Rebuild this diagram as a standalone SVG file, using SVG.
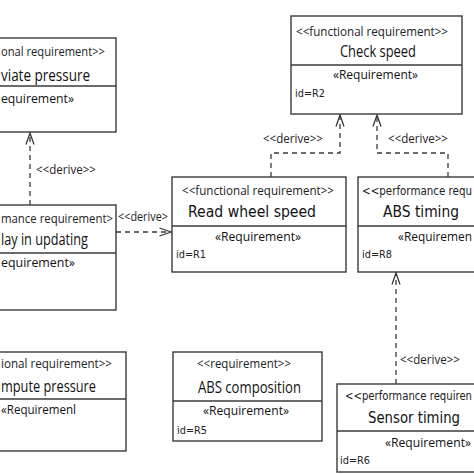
<svg xmlns="http://www.w3.org/2000/svg" width="474" height="474" viewBox="0 0 474 474">
<style>
.box{fill:#fff;stroke:#3a3a3a;stroke-width:1.4}
.div{stroke:#3a3a3a;stroke-width:1.4}
.st{font-family:"Open Sans","Noto Sans",sans-serif;font-size:12px;fill:#222}
.nm{font-family:"Open Sans","Noto Sans",sans-serif;font-size:16px;fill:#111}
.st2{font-family:"DejaVu Sans",sans-serif;font-size:12px;fill:#222}
.nm2{font-family:"DejaVu Sans",sans-serif;font-size:16px;fill:#111}
.rq{font-family:"Open Sans","Noto Sans",sans-serif;font-size:12.5px;fill:#111}
.id{font-family:"DejaVu Sans",sans-serif;font-size:11px;fill:#222}
.lbl{font-family:"Open Sans","Noto Sans",sans-serif;font-size:12px;fill:#222}
.dash{fill:none;stroke:#3a3a3a;stroke-width:1.3;stroke-dasharray:5 4;marker-end:url(#open)}
</style>
<defs>
<marker id="open" markerUnits="userSpaceOnUse" viewBox="0 0 12 8" refX="11.5" refY="4" markerWidth="12" markerHeight="8" orient="auto" overflow="visible">
<path d="M0,0 L11.5,4 L0,8" fill="none" stroke="#3a3a3a" stroke-width="1.3"/>
</marker>
</defs>
<rect width="474" height="474" fill="#fff"/>

<g id="connectors">
<path class="dash" d="M30 205 V133"/>
<path class="dash" d="M116 232 H171"/>
<path class="dash" d="M271 177 V153 H340 V115"/>
<path class="dash" d="M448 177 V153 H377 V115"/>
<path class="dash" d="M396 384 V273"/>
<text class="lbl" x="36" y="174" textLength="60" lengthAdjust="spacingAndGlyphs">&lt;&lt;derive&gt;&gt;</text>
<text class="lbl" x="118" y="221" textLength="50" lengthAdjust="spacingAndGlyphs">&lt;&lt;derive&gt;</text>
<text class="lbl" x="263" y="143" textLength="60" lengthAdjust="spacingAndGlyphs">&lt;&lt;derive&gt;&gt;</text>
<text class="lbl" x="388" y="143" textLength="60" lengthAdjust="spacingAndGlyphs">&lt;&lt;derive&gt;&gt;</text>
<text class="lbl" x="400" y="364" textLength="60" lengthAdjust="spacingAndGlyphs">&lt;&lt;derive&gt;&gt;</text>
</g>

<g id="deviate-pressure">
<rect class="box" x="-2" y="38" width="118" height="94"/>
<line class="div" x1="-2" y1="86" x2="116" y2="86"/>
<text class="st" x="1" y="56" textLength="104" lengthAdjust="spacingAndGlyphs">onal requirement&gt;&gt;</text>
<text class="nm" x="1" y="81" textLength="89" lengthAdjust="spacingAndGlyphs">viate pressure</text>
<text class="rq" x="1" y="103" textLength="73" lengthAdjust="spacingAndGlyphs">equirement»</text>
</g>

<g id="check-speed">
<rect class="box" x="291" y="16" width="171" height="98"/>
<line class="div" x1="291" y1="65" x2="462" y2="65"/>
<text class="st" x="296" y="36" textLength="152" lengthAdjust="spacingAndGlyphs">&lt;&lt;functional requirement&gt;&gt;</text>
<text class="nm" x="340" y="57" textLength="76" lengthAdjust="spacingAndGlyphs">Check speed</text>
<text class="rq" x="333" y="79" textLength="85" lengthAdjust="spacingAndGlyphs">«Requirement»</text>
<text class="id" x="295" y="97" textLength="30" lengthAdjust="spacingAndGlyphs">id=R2</text>
</g>

<g id="delay-in-updating">
<rect class="box" x="-2" y="205" width="118" height="105"/>
<line class="div" x1="-2" y1="253" x2="116" y2="253"/>
<text class="st" x="1" y="223" textLength="112" lengthAdjust="spacingAndGlyphs">mance requirement&gt;</text>
<text class="nm" x="1" y="245" textLength="87" lengthAdjust="spacingAndGlyphs">lay in updating</text>
<text class="rq" x="1" y="267" textLength="74" lengthAdjust="spacingAndGlyphs">equirement»</text>
</g>

<g id="read-wheel-speed">
<rect class="box" x="172" y="177" width="174" height="95"/>
<line class="div" x1="172" y1="226" x2="346" y2="226"/>
<text class="st" x="182" y="195" textLength="152" lengthAdjust="spacingAndGlyphs">&lt;&lt;functional requirement&gt;&gt;</text>
<text class="nm2" x="188" y="217" textLength="128" lengthAdjust="spacingAndGlyphs">Read wheel speed</text>
<text class="rq" x="215" y="241" textLength="86" lengthAdjust="spacingAndGlyphs">«Requirement»</text>
<text class="id" x="176" y="258" textLength="30" lengthAdjust="spacingAndGlyphs">id=R1</text>
</g>

<g id="abs-timing">
<rect class="box" x="358" y="177" width="120" height="95"/>
<line class="div" x1="358" y1="226" x2="478" y2="226"/>
<text class="st2" x="362" y="195" textLength="110" lengthAdjust="spacingAndGlyphs">&lt;&lt;performance requ</text>
<text class="nm2" x="383" y="217" textLength="76" lengthAdjust="spacingAndGlyphs">ABS timing</text>
<text class="rq" x="398" y="241" textLength="74" lengthAdjust="spacingAndGlyphs">«Requiremen</text>
<text class="id" x="362" y="258" textLength="30" lengthAdjust="spacingAndGlyphs">id=R8</text>
</g>

<g id="compute-pressure">
<rect class="box" x="-2" y="352" width="128" height="99"/>
<line class="div" x1="-2" y1="399" x2="126" y2="399"/>
<text class="st" x="1" y="368" textLength="111" lengthAdjust="spacingAndGlyphs">ional requirement&gt;&gt;</text>
<text class="nm" x="1" y="392" textLength="95" lengthAdjust="spacingAndGlyphs">mpute  pressure</text>
<text class="rq" x="1" y="414" textLength="75" lengthAdjust="spacingAndGlyphs">«Requiremenl</text>
</g>

<g id="abs-composition">
<rect class="box" x="173" y="352" width="149" height="89"/>
<line class="div" x1="173" y1="401" x2="322" y2="401"/>
<text class="st" x="197" y="368" textLength="94" lengthAdjust="spacingAndGlyphs">&lt;&lt;requirement&gt;&gt;</text>
<text class="nm" x="198" y="393" textLength="103" lengthAdjust="spacingAndGlyphs">ABS composition</text>
<text class="rq" x="203" y="415" textLength="86" lengthAdjust="spacingAndGlyphs">«Requirement»</text>
<text class="id" x="177" y="434" textLength="30" lengthAdjust="spacingAndGlyphs">id=R5</text>
</g>

<g id="sensor-timing">
<rect class="box" x="337" y="384" width="141" height="88"/>
<line class="div" x1="337" y1="431" x2="478" y2="431"/>
<text class="st2" x="345" y="400" textLength="127" lengthAdjust="spacingAndGlyphs">&lt;&lt;performance requiren</text>
<text class="nm2" x="368" y="423" textLength="92" lengthAdjust="spacingAndGlyphs">Sensor timing</text>
<text class="rq" x="385" y="447" textLength="86" lengthAdjust="spacingAndGlyphs">«Requirement»</text>
<text class="id" x="340" y="464" textLength="30" lengthAdjust="spacingAndGlyphs">id=R6</text>
</g>
</svg>
